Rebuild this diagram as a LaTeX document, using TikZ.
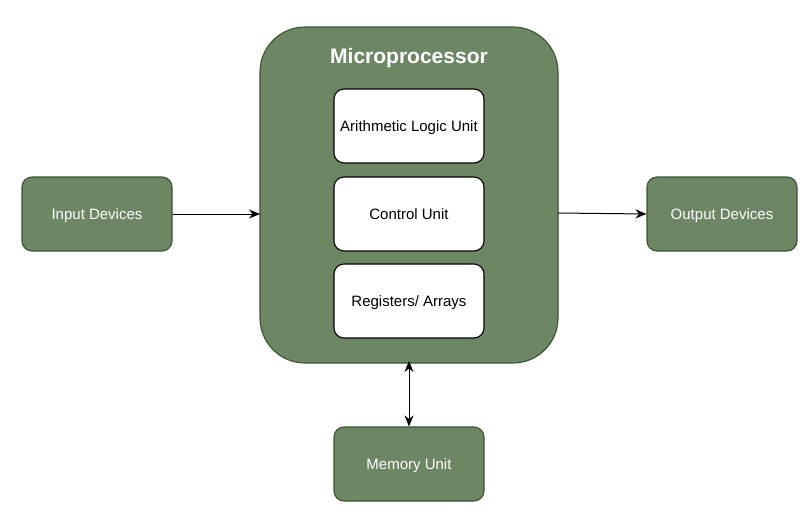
\documentclass[tikz,border=0pt]{standalone}
\usepackage{fontspec}
\setmainfont{Liberation Sans}
\usetikzlibrary{arrows.meta}
\definecolor{gfill}{HTML}{6D8764}
\definecolor{gdraw}{HTML}{3A5431}
\tikzset{
  boxtext/.style={font=\fontsize{15}{18}\selectfont, text height=11pt, text depth=1pt},
  greenbox/.style={draw=gdraw, fill=gfill, line width=1.1pt, rounded corners=10pt, text=white, boxtext},
  whitebox/.style={draw=black, fill=white, line width=1.1pt, rounded corners=10pt, text=black, boxtext},
  conn/.style={line width=1pt, -{Stealth[length=11pt,width=9pt]}},
}
\begin{document}
\begin{tikzpicture}[x=1pt,y=-1pt]
\useasboundingbox (0,0) rectangle (812,520);
\fill[white] (0,0) rectangle (812,520);
% microprocessor
\draw[draw=gdraw, fill=gfill, line width=1.1pt, rounded corners=45pt] (260,27) rectangle (558,363);
\node[coordinate] (mpW) at (260,214) {};
\node[coordinate] (mpE) at (558,213) {};
\node[coordinate] (mpS) at (409,363) {};
\node[text=white, font=\bfseries\fontsize{21}{24}\selectfont] (title) at (409,58) {Microprocessor};
\node[whitebox, minimum width=150pt, minimum height=74pt] (alu) at (409,126) {Arithmetic Logic Unit};
\node[whitebox, minimum width=150pt, minimum height=74pt] (cu) at (409,214) {Control Unit};
\node[whitebox, minimum width=150pt, minimum height=74pt] (reg) at (409,301) {Registers/ Arrays};
\node[greenbox, minimum width=150pt, minimum height=74pt] (in) at (97,214) {Input Devices};
\node[greenbox, minimum width=150pt, minimum height=74pt] (out) at (722,214) {Output Devices};
\node[greenbox, minimum width=150pt, minimum height=74pt] (mem) at (409,464) {Memory Unit};
\draw[conn] (in.east) -- (mpW);
\draw[conn] (mpE) -- (out.west);
\draw[conn, {Stealth[length=11pt,width=9pt]}-{Stealth[length=11pt,width=9pt]}] ([yshift=2pt]mpS) -- (mem.north);
\end{tikzpicture}
\end{document}
